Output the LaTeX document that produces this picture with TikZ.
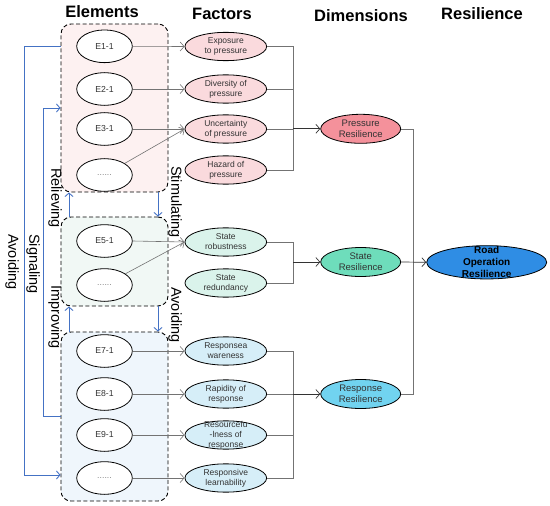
\documentclass[tikz,border=0pt]{standalone}
\usepackage{fontspec}
\setmainfont{Liberation Sans}
\usetikzlibrary{arrows.meta,shapes.geometric}
\definecolor{gpink}{HTML}{FDF1F1}
\definecolor{ggreen}{HTML}{F1F8F5}
\definecolor{gblue}{HTML}{EFF6FC}
\definecolor{fpink}{HTML}{FADADD}
\definecolor{fgreen}{HTML}{DAF3EB}
\definecolor{fblue}{HTML}{D6EEF8}
\definecolor{dpink}{HTML}{F4919B}
\definecolor{dgreen}{HTML}{6EDDBB}
\definecolor{dblue}{HTML}{71D3F0}
\definecolor{road}{HTML}{2F8DE4}
\definecolor{bline}{HTML}{4472C4}
\definecolor{txt}{HTML}{333333}
\tikzset{
  grp/.style={draw=black, dash pattern=on 4pt off 2.5pt, rounded corners=10pt, line width=0.9pt, minimum width=107pt, inner sep=0pt},
  elem/.style={ellipse, draw, fill=white, line width=0.8pt, minimum width=55.6pt, minimum height=32.7pt, inner sep=0pt, font=\fontsize{8.7}{10}\selectfont, text=txt},
  fac/.style={ellipse, draw, line width=0.8pt, minimum width=81.7pt, minimum height=28.3pt, inner sep=0pt},
  ftxt/.style={align=center, font=\fontsize{8.5}{10}\selectfont, text=txt, inner sep=0pt},
  dim/.style={ellipse, draw, line width=0.8pt, minimum width=80pt, minimum height=29pt, inner sep=0pt},
  dtxt/.style={align=center, font=\fontsize{9.5}{11}\selectfont, text=txt, inner sep=0pt},
  head/.style={font=\fontsize{16.5}{18}\selectfont\bfseries},
  vlab/.style={rotate=-90, font=\fontsize{14.5}{16}\selectfont},
  garr/.style={draw=gray!90!black, line width=0.6pt, -{Straight Barb[length=4pt,width=9pt]}},
  gline/.style={draw=gray!90!black, line width=0.6pt},
  darr/.style={draw=black!80, line width=0.7pt, -{Straight Barb[length=4pt,width=9pt]}},
  barr/.style={draw=bline, line width=0.9pt, -{Straight Barb[length=3.5pt,width=8pt]}}
}
\begin{document}
\begin{tikzpicture}[x=1pt,y=-1pt]
\useasboundingbox (0,0) rectangle (550,506);
% headers
\node[head] (h1) at (102,12) {Elements};
\node[head] (h2) at (222,14) {Factors};
\node[head] (h3) at (361,16) {Dimensions};
\node[head] (h4) at (482,14) {Resilience};
% groups
\node[grp, fill=gpink, minimum height=168pt] (g1) at (114.5,108) {};
\node[grp, fill=ggreen, minimum height=89pt] (g2) at (114.5,261.5) {};
\node[grp, fill=gblue, minimum height=169pt] (g3) at (114.5,416.5) {};
% elements
\node[elem] (e11) at (104.5,46.3) {E1-1};
\node[elem] (e12) at (104.5,89) {E2-1};
\node[elem] (e13) at (104.5,129) {E3-1};
\node[elem] (e14) at (104.5,175) {\textcolor{gray}{......}};
\node[elem] (e21) at (104.5,241) {E5-1};
\node[elem] (e22) at (104.5,285) {\textcolor{gray}{......}};
\node[elem] (e31) at (104.5,351) {E7-1};
\node[elem] (e32) at (104.5,394) {E8-1};
\node[elem] (e33) at (104.5,435) {E9-1};
\node[elem] (e34) at (104.5,478) {\textcolor{gray}{......}};
% factors
\node[fac, fill=fpink, label={[ftxt]center:Exposure\\to pressure}] (f1) at (225.8,46.5) {};
\node[fac, fill=fpink, label={[ftxt]center:Diversity of\\pressure}] (f2) at (225.8,89) {};
\node[fac, fill=fpink, label={[ftxt]center:Uncertainty\\of pressure}] (f3) at (225.8,129) {};
\node[fac, fill=fpink, label={[ftxt]center:Hazard of\\pressure}] (f4) at (225.8,170) {};
\node[fac, fill=fgreen, label={[ftxt]center:State\\robustness}] (f5) at (225.8,242) {};
\node[fac, fill=fgreen, label={[ftxt]center:State\\redundancy}] (f6) at (225.8,283) {};
\node[fac, fill=fblue, label={[ftxt]center:Responsea\\wareness}] (f7) at (225.8,351) {};
\node[fac, fill=fblue, label={[ftxt]center:Rapidity of\\response}] (f8) at (225.8,394) {};
\node[fac, fill=fblue, label={[ftxt]center:Resourcefu\\-lness of\\response}] (f9) at (225.8,435) {};
\node[fac, fill=fblue, label={[ftxt]center:Responsive\\learnability}] (f10) at (225.8,478) {};
% dimensions
\node[dim, fill=dpink, label={[dtxt]center:Pressure\\Resilience}] (dp) at (360.7,128.8) {};
\node[dim, fill=dgreen, label={[dtxt]center:State\\Resilience}] (ds) at (360.7,262) {};
\node[dim, fill=dblue, label={[dtxt]center:Response\\Resilience}] (dr) at (360.7,394) {};
\node[ellipse, draw, line width=0.8pt, fill=road, minimum width=120pt, minimum height=33.3pt, inner sep=0pt,
  label={[align=center, font=\fontsize{10}{12}\selectfont\bfseries, inner sep=0pt]center:Road\\Operation\\Resilience}] (road) at (486.7,262.3) {};
% element -> factor
\draw[garr] (e11.east) -- (f1.west);
\draw[garr] (e12.east) -- (f2.west);
\draw[garr] (e13.east) -- (f3.west);
\draw[garr] (e14) -- (f3.west);
\draw[garr] (e21.east) -- (f5.west);
\draw[garr] (e22) -- (f5.west);
\draw[garr] (e31.east) -- (f7.west);
\draw[garr] (e32.east) -- (f8.west);
\draw[garr] (e33.east) -- (f9.west);
\draw[garr] (e34.east) -- (f10.west);
% junctions
\coordinate (jp) at (293,128.8);
\coordinate (js) at (293,262);
\coordinate (jr) at (293,394);
\coordinate (jd) at (413,262);
\draw[gline] (f1.east) -- (f1.east -| jp) -- (f4.east -| jp) -- (f4.east);
\draw[gline] (f2.east) -- (f2.east -| jp);
\draw[gline] (f3.east) -- (f3.east -| jp);
\draw[darr] (jp) -- (dp.west);
\draw[gline] (f5.east) -- (f5.east -| js) -- (f6.east -| js) -- (f6.east);
\draw[darr] (js) -- (ds.west);
\draw[gline] (f7.east) -- (f7.east -| jr) -- (f10.east -| jr) -- (f10.east);
\draw[gline] (f8.east) -- (f8.east -| jr);
\draw[gline] (f9.east) -- (f9.east -| jr);
\draw[darr] (jr) -- (dr.west);
\draw[gline] (dp.east) -- (dp.east -| jd) -- (dr.east -| jd) -- (dr.east);
\draw[darr] (ds.east) -- (road.west);
% blue feedback arrows
\coordinate (av) at (24,475);
\coordinate (sgt) at (43,108);
\coordinate (sgb) at (43,416);
\coordinate (lx) at (69,200);
\coordinate (rx) at (158,200);
\draw[barr] (g1.west |- e11) -| (av) -- (g3.west |- av);
\draw[barr] (g3.west |- sgb) -- (sgb) -- (sgt) -- (g1.west |- sgt);
\draw[barr] (g2.north -| lx) -- (g1.south -| lx);
\draw[barr] (g1.south -| rx) -- (g2.north -| rx);
\draw[barr] (g3.north -| lx) -- (g2.south -| lx);
\draw[barr] (g2.south -| rx) -- (g3.north -| rx);
% rotated labels
\node[vlab] (l1) at (55,198) {Relieving};
\node[vlab] (l2) at (175,202) {Stimulating};
\node[vlab] (l3) at (55,317) {Improving};
\node[vlab] (l4) at (175,315) {Avoiding};
\node[vlab] (l5) at (33,264) {Signaling};
\node[vlab] (l6) at (12,262) {Avoiding};
\end{tikzpicture}
\end{document}
